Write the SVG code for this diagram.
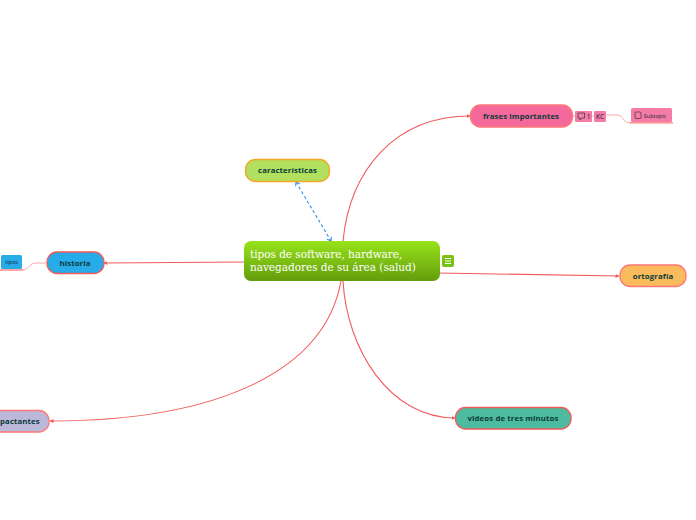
<svg xmlns="http://www.w3.org/2000/svg" width="696" height="520" viewBox="0 0 696 520">
<style>
.t{font-family:"Open Sans","Noto Sans",sans-serif;font-size:7.800px;font-weight:700;fill:#0b3b3b;text-anchor:middle;letter-spacing:.12px}
.s{font-family:"Open Sans","Noto Sans",sans-serif;font-size:5.500px;fill:#123;text-anchor:middle}
.n{stroke-width:1.300}
.c{fill:none;stroke:#f25a5a;stroke-width:1.100}
.l{fill:none;stroke:#f9a8a8;stroke-width:1}
.u{stroke:#f77;stroke-width:1.300}
.h{font-family:"DejaVu Serif","Liberation Serif",serif;font-size:10.500px;fill:#fff;letter-spacing:-.03px}
</style>
<defs>
<linearGradient id="g" x1="0" y1="0" x2="0" y2="1"><stop offset="0" stop-color="#97e31a"/><stop offset="1" stop-color="#649c0c"/></linearGradient>
<marker id="a" markerUnits="userSpaceOnUse" markerWidth="5" markerHeight="5" refX="3.500" refY="2.500" orient="auto"><path d="M0 .5L4 2.500L0 4.500z" fill="#f25a5a"/></marker>
<marker id="b" markerUnits="userSpaceOnUse" markerWidth="7" markerHeight="7" refX="5" refY="3.500" orient="auto-start-reverse"><path d="M1.500 1L5 3.500L1.500 6" fill="none" stroke="#2f8de4" stroke-width="1"/></marker>
</defs>
<g id="connectors">
<path class="c" marker-end="url(#a)" d="M343 241C350 170 395 116 470 116"/>
<path class="c" marker-end="url(#a)" d="M438 273L619 276"/>
<path class="c" marker-end="url(#a)" d="M343 281C347 350 390 418 455 418"/>
<path class="c" marker-end="url(#a)" d="M341 281C325 370 220 421 50 421"/>
<path class="c" marker-end="url(#a)" d="M245 262L104 263"/>
<path fill="none" stroke="#2f8de4" stroke-width="1.100" stroke-dasharray="3 2.500" marker-start="url(#b)" marker-end="url(#b)" d="M296 182L331 241"/>
<path class="l" d="M573 116H594"/>
<path class="l" d="M606 115H617C624 115 622 123 631 123"/>
<path class="l" d="M46 263H36C29 263 29 270 22 270"/>
</g>
<g id="node-central">
<rect x="244" y="241" width="196" height="40" rx="7" fill="url(#g)"/>
<text class="h" x="250" y="257.500">tipos de software, hardware,</text>
<text class="h" x="250" y="270.500">navegadores de su área (salud)</text>
<rect x="442" y="255" width="12" height="12" rx="2" fill="#7cc214"/>
<path d="M445 258.500H451M445 261H451M445 263.500H451" stroke="#fff" stroke-width="1"/>
</g>
<g id="node-caracteristicas">
<rect x="245.500" y="159.500" width="84" height="22" rx="10" fill="#b0e05e" stroke="#f5a623" class="n"/>
<text class="t" x="287.500" y="173">características</text>
</g>
<g id="node-frases">
<rect x="470.500" y="105" width="102" height="22" rx="10" fill="#f4689c" stroke="#f77" class="n"/>
<text class="t" x="521" y="119">frases importantes</text>
<rect x="575" y="111" width="17" height="11" rx="1" fill="#f47ca6"/>
<path d="M578 113H584.500V118H581.500L580 120V118H578Z" fill="none" stroke="#333" stroke-width=".7"/>
<text class="s" x="588.500" y="119" style="font-size:6.500px">1</text>
<rect x="594" y="111" width="12" height="11" rx="1" fill="#f47ca6"/>
<text class="s" x="600" y="119" style="font-size:6.500px">KC</text>
</g>
<g id="node-subtopic">
<rect x="631" y="108" width="41" height="14" rx="1.500" fill="#f47ca6"/>
<path class="u" d="M630 122.800H673"/>
<rect x="635" y="112" width="6" height="6.500" rx="1" fill="none" stroke="#333" stroke-width=".7"/>
<text class="s" x="655" y="117.500">Subtopic</text>
</g>
<g id="node-ortografia">
<rect x="620" y="265" width="66" height="21.500" rx="10" fill="#f9bb5c" stroke="#f77" class="n"/>
<text class="t" x="653" y="278.500">ortografía</text>
</g>
<g id="node-videos">
<rect x="455.500" y="407.500" width="115.500" height="21.500" rx="10" fill="#4dbb9f" stroke="#f25a5a" class="n"/>
<text class="t" x="513" y="421">videos de tres minutos</text>
</g>
<g id="node-pactantes">
<rect x="-30" y="410.500" width="79" height="21.500" rx="10" fill="#bcb8da" stroke="#f77" class="n"/>
<text class="t" x="0" y="424" style="text-anchor:start">pactantes</text>
</g>
<g id="node-historia">
<rect x="47" y="252" width="57" height="21.500" rx="10" fill="#27abe9" stroke="#f25a5a" class="n"/>
<text class="t" x="75" y="265.500">historia</text>
</g>
<g id="node-tipos">
<rect x="1" y="255" width="21" height="14" rx="1.500" fill="#27abe9"/>
<path class="u" d="M0 270H23"/>
<text class="s" x="11.500" y="264">tipos</text>
</g>
</svg>
